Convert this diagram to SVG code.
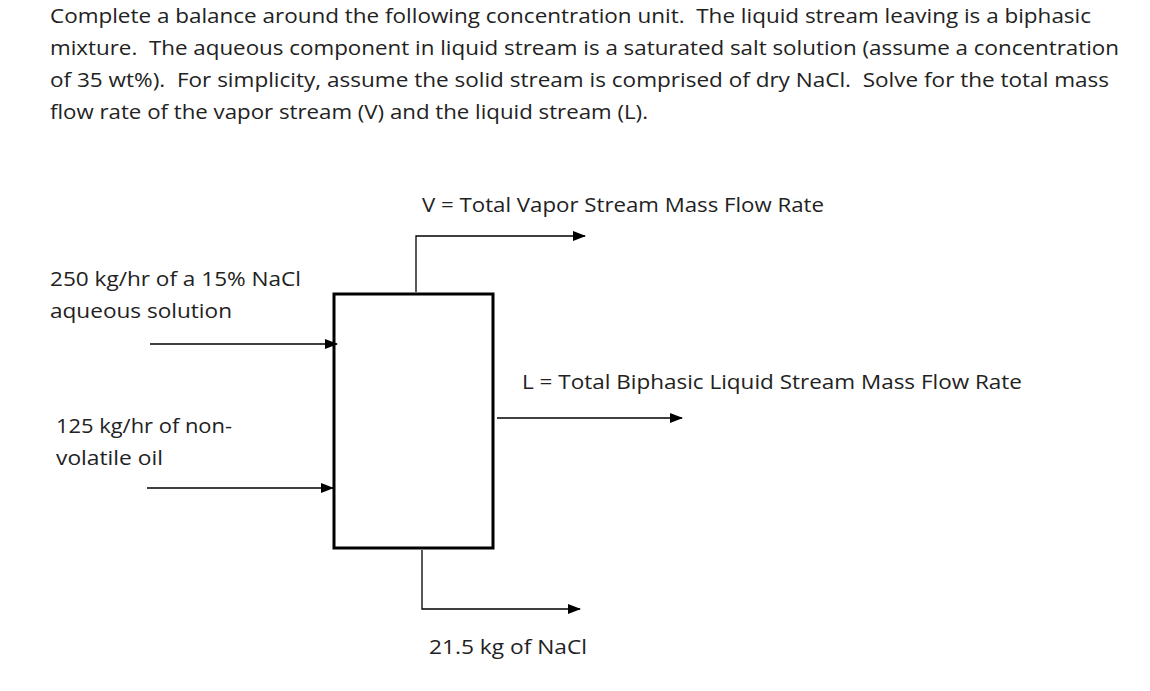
<svg xmlns="http://www.w3.org/2000/svg" width="1150" height="691" viewBox="0 0 1150 691">
<style>
text{font-family:"Open Sans","Liberation Sans",sans-serif;font-size:20px;fill:#222;white-space:pre}
.c{stroke:#000;stroke-width:1.3;fill:none}
</style>
<defs><marker id="a" markerWidth="13" markerHeight="10" refX="12" refY="5" orient="auto" markerUnits="userSpaceOnUse"><path d="M0,0L13,5L0,10z" fill="#000"/></marker></defs>
<rect width="1150" height="691" fill="#fff"/>
<g id="problem">
<text x="50" y="23" textLength="1041" lengthAdjust="spacingAndGlyphs">Complete a balance around the following concentration unit.  The liquid stream leaving is a biphasic</text>
<text x="50" y="55" textLength="1069" lengthAdjust="spacingAndGlyphs">mixture.  The aqueous component in liquid stream is a saturated salt solution (assume a concentration</text>
<text x="50" y="87" textLength="1059" lengthAdjust="spacingAndGlyphs">of 35 wt%).  For simplicity, assume the solid stream is comprised of dry NaCl.  Solve for the total mass</text>
<text x="50" y="119" textLength="598" lengthAdjust="spacingAndGlyphs">flow rate of the vapor stream (V) and the liquid stream (L).</text>
</g>
<g id="unit"><rect x="334" y="294" width="159" height="254" fill="none" stroke="#000" stroke-width="3"/></g>
<g id="labels">
<text x="422" y="212" textLength="402" lengthAdjust="spacingAndGlyphs">V = Total Vapor Stream Mass Flow Rate</text>
<text x="50" y="286" textLength="251" lengthAdjust="spacingAndGlyphs">250 kg/hr of a 15% NaCl</text>
<text x="50" y="318" textLength="182" lengthAdjust="spacingAndGlyphs">aqueous solution</text>
<text x="522" y="389" textLength="500" lengthAdjust="spacingAndGlyphs">L = Total Biphasic Liquid Stream Mass Flow Rate</text>
<text x="56" y="433" textLength="176" lengthAdjust="spacingAndGlyphs">125 kg/hr of non-</text>
<text x="56" y="465" textLength="107" lengthAdjust="spacingAndGlyphs">volatile oil</text>
<text x="429" y="654" textLength="158" lengthAdjust="spacingAndGlyphs">21.5 kg of NaCl</text>
</g>
<g id="connectors">
<path class="c" d="M416,292V236H585" marker-end="url(#a)"/>
<path class="c" d="M150,344H337" marker-end="url(#a)"/>
<path class="c" d="M497,418H682" marker-end="url(#a)"/>
<path class="c" d="M147,488H333" marker-end="url(#a)"/>
<path class="c" d="M422,550V609H580" marker-end="url(#a)"/>
</g>
</svg>
